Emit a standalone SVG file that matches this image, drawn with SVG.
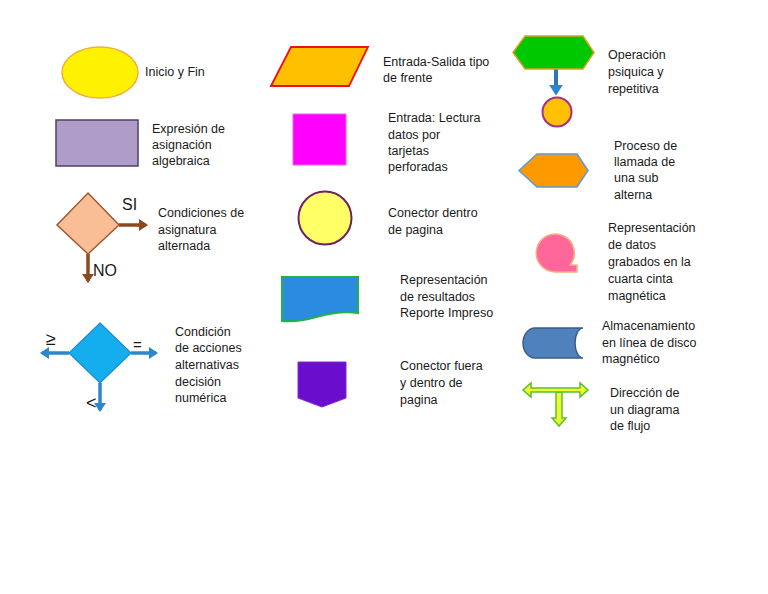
<svg xmlns="http://www.w3.org/2000/svg" width="768" height="594" viewBox="0 0 768 594">
<defs>
<style>
text{font-family:"Liberation Sans",Arial,sans-serif;font-size:12.5px;fill:#1a1a1a}
.big{font-size:16px}
.brown{stroke:#8B4A1E;stroke-width:3.5;fill:none}
.blue{stroke:#2B86CC;stroke-width:3.5;fill:none}
</style>
<marker id="ahBrown" markerWidth="4" markerHeight="4" refX="2" refY="2" orient="auto" markerUnits="strokeWidth"><path d="M0,0.3 L2.6,2 L0,3.7 Z" fill="#8B4A1E"/></marker>
<marker id="ahBlue" markerWidth="4" markerHeight="4" refX="2" refY="2" orient="auto" markerUnits="strokeWidth"><path d="M0,0.3 L2.6,2 L0,3.7 Z" fill="#2B86CC"/></marker>
<linearGradient id="ylw" x1="0" y1="0" x2="0" y2="1"><stop offset="0" stop-color="#F4FF3A"/><stop offset="1" stop-color="#E6F52A"/></linearGradient>
</defs>
<rect width="768" height="594" fill="#ffffff"/>

<g id="connectors">
<line class="brown" x1="119" y1="225" x2="146" y2="225" marker-end="url(#ahBrown)"/>
<line class="brown" x1="88" y1="254" x2="88" y2="281" marker-end="url(#ahBrown)"/>
<line class="blue" x1="69" y1="353" x2="42" y2="353" marker-end="url(#ahBlue)"/>
<line class="blue" x1="131" y1="353" x2="156" y2="353" marker-end="url(#ahBlue)"/>
<line class="blue" x1="100" y1="383" x2="100" y2="410" marker-end="url(#ahBlue)"/>
<line x1="556" y1="69" x2="556" y2="93" stroke="#2E75B6" stroke-width="4" marker-end="url(#ahBlue)"/>
</g>

<g id="inicio-fin">
<ellipse cx="100" cy="72.5" rx="38" ry="25.5" fill="#FFF200" stroke="#F0B040" stroke-width="1.5"/>
<text x="145" y="76">Inicio y Fin</text>
</g>

<g id="asignacion">
<rect x="56" y="120" width="82" height="46" fill="#B09CC8" stroke="#4E4166" stroke-width="1.5"/>
<text x="152" y="133">Expresión de</text>
<text x="152" y="149">asignación</text>
<text x="152" y="165">algebraica</text>
</g>

<g id="condicion-alternada">
<polygon points="88,193 119,225 88,254 57,225" fill="#F9BE96" stroke="#A0592D" stroke-width="1.5"/>
<text class="big" x="122" y="210">SI</text>
<text class="big" x="93" y="276">NO</text>
<text x="158" y="217">Condiciones de</text>
<text x="158" y="234">asignatura</text>
<text x="158" y="250">alternada</text>
</g>

<g id="decision-numerica">
<polygon points="100,323 131,353 100,383 69,353" fill="#14AEEF" stroke="#1E88D0" stroke-width="1.2"/>
<text x="46" y="345" style="font-size:18px">≥</text>
<text x="133" y="350" style="font-size:15px">=</text>
<text x="86" y="409" style="font-size:18px">&lt;</text>
<text x="175" y="336">Condición</text>
<text x="175" y="352">de acciones</text>
<text x="175" y="369">alternativas</text>
<text x="175" y="386">decisión</text>
<text x="175" y="402">numérica</text>
</g>

<g id="entrada-salida">
<polygon points="271,86 291,47 368,47 349,86" fill="#FFC000" stroke="#F01010" stroke-width="1.8"/>
<text x="383" y="66">Entrada-Salida tipo</text>
<text x="383" y="82">de frente</text>
</g>

<g id="tarjetas">
<rect x="293" y="114" width="53" height="51" fill="#FF00FF" stroke="#F060F0" stroke-width="1"/>
<text x="388" y="122">Entrada: Lectura</text>
<text x="388" y="139">datos por</text>
<text x="388" y="155">tarjetas</text>
<text x="388" y="171">perforadas</text>
</g>

<g id="conector-pagina">
<circle cx="325" cy="218" r="26.5" fill="#FFFF66" stroke="#6E2060" stroke-width="2"/>
<text x="388" y="217">Conector dentro</text>
<text x="388" y="234">de pagina</text>
</g>

<g id="reporte">
<path d="M282,277 H358 V313 C344,311 330,313 316,317 C302,321 292,322 282,321 Z" fill="#2A8BE0" stroke="#22B04C" stroke-width="2"/>
<text x="400" y="284">Representación</text>
<text x="400" y="301">de resultados</text>
<text x="400" y="317">Reporte Impreso</text>
</g>

<g id="conector-fuera">
<path d="M298,362 H346 V398 L322,407 L298,398 Z" fill="#6B0DCC" stroke="#7A2AD8" stroke-width="1"/>
<text x="400" y="370">Conector fuera</text>
<text x="400" y="387">y dentro de</text>
<text x="400" y="404">pagina</text>
</g>

<g id="operacion-repetitiva">
<polygon points="513,52.5 525,36 583,36 594,52.5 583,69 525,69" fill="#00C800" stroke="#E0A020" stroke-width="1.5"/>
<circle cx="557" cy="112" r="14.5" fill="#FFC000" stroke="#A0308A" stroke-width="2"/>
<text x="608" y="59">Operación</text>
<text x="608" y="76">psiquica y</text>
<text x="608" y="93">repetitiva</text>
</g>

<g id="subalterna">
<polygon points="519,170.5 537,154 577,154 588,170.5 577,187 537,187" fill="#FF9900" stroke="#5B9BD5" stroke-width="1.5"/>
<text x="614" y="150">Proceso de</text>
<text x="614" y="166">llamada de</text>
<text x="614" y="182">una sub</text>
<text x="614" y="199">alterna</text>
</g>

<g id="cinta">
<path d="M555,272 L577,272 L577,265 L570,265 A19,19 0 1 0 555,272 Z" fill="#FF6699" stroke="#F4B183" stroke-width="1.5"/>
<text x="608" y="232">Representación</text>
<text x="608" y="249">de datos</text>
<text x="608" y="266">grabados en la</text>
<text x="608" y="283">cuarta cinta</text>
<text x="608" y="300">magnética</text>
</g>

<g id="disco">
<path d="M535,328 H583 A8,15 0 0 0 583,358 H535 A12,15 0 0 1 535,328 Z" fill="#4F81BD" stroke="#385D8A" stroke-width="1.5"/>
<text x="602" y="330">Almacenamiento</text>
<text x="602" y="347">en línea de disco</text>
<text x="602" y="363">magnético</text>
</g>

<g id="direccion-flujo">
<polygon points="556,392 562,392 562,418 566,418 559,426 552,418 556,418" fill="url(#ylw)" stroke="#5DBE2C" stroke-width="1.5"/>
<polygon points="523,390 531,383 531,388 580,388 580,383 588,390 580,397 580,392 531,392 531,397" fill="url(#ylw)" stroke="#5DBE2C" stroke-width="1.5"/>
<text x="610" y="397">Dirección de</text>
<text x="610" y="414">un diagrama</text>
<text x="610" y="430">de flujo</text>
</g>
</svg>
